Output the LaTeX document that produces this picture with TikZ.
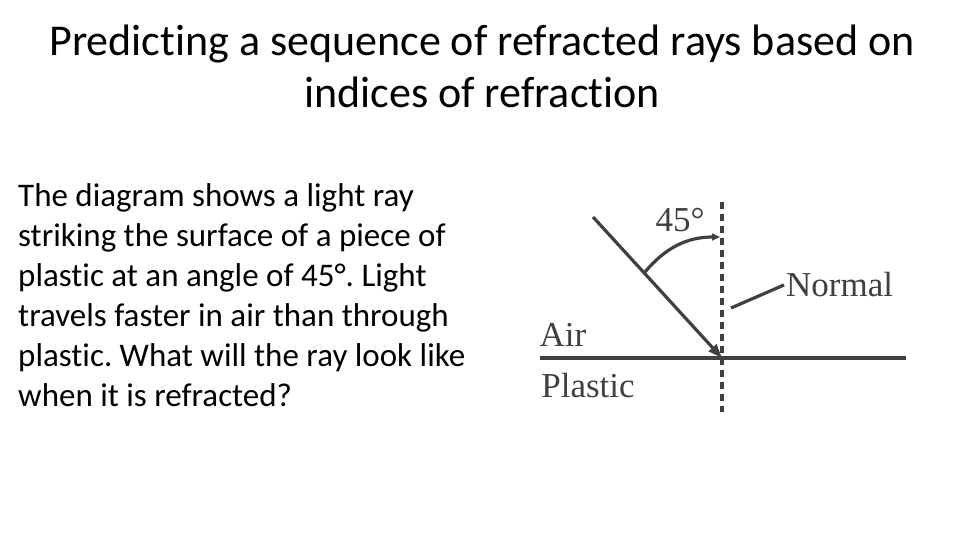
\documentclass[tikz,border=0pt]{standalone}
\usepackage{fontspec}
\setmainfont[Ligatures={NoCommon}]{Carlito}
\newfontfamily\tms{Liberation Serif}
\usetikzlibrary{arrows.meta}
\frenchspacing
\begin{document}
\begin{tikzpicture}[x=1pt,y=-1pt,
  lbl/.style={font=\tms\fontsize{35}{36}\selectfont\color{black!75}, inner sep=0pt},
  ln/.style={line width=3.2pt, black!75}]
\useasboundingbox (0,0) rectangle (960,540);
\fill[white] (0,0) rectangle (960,540);
\node[align=center, font=\fontsize{44}{52}\selectfont] (title) at (482,66) {Predicting a sequence of refracted rays based on\\indices of refraction};
\node[align=left, anchor=north west, font=\fontsize{33}{40}\selectfont, inner sep=0pt] (body) at (18,183) {The diagram shows a light ray\\striking the surface of a piece of\\plastic at an angle of 45°. Light\\travels faster in air than through\\plastic. What will the ray look like\\when it is refracted?};
\coordinate (ntop) at (722,202);
\coordinate (nbot) at (722,412);
\coordinate (o) at (722,358);
\coordinate (sl) at (540,358);
\coordinate (sr) at (906,358);
\coordinate (rs) at (593,217);
\coordinate (a1) at (645,272);
\coordinate (a2) at (720,237);
\draw[ln, dash pattern=on 7pt off 5pt] (ntop) -- (nbot);
\draw[ln] (sl) -- (sr);
\draw[ln, -{Triangle[length=14pt,width=10pt]}] (rs) -- (o);
\draw[ln, -{Triangle[length=8pt,width=7pt]}] (a1) to[bend left=25] (a2);
\node[lbl] (ang) at (680,220) {45°};
\node[lbl, anchor=west] (nl) at (786,285) {Normal};
\coordinate (nlp) at (731,308);
\draw[ln] (nlp) -- ([xshift=-2pt]nl.west);
\node[lbl] (air) at (563,335) {Air};
\node[lbl] (pl) at (588,386) {Plastic};
\end{tikzpicture}
\end{document}
